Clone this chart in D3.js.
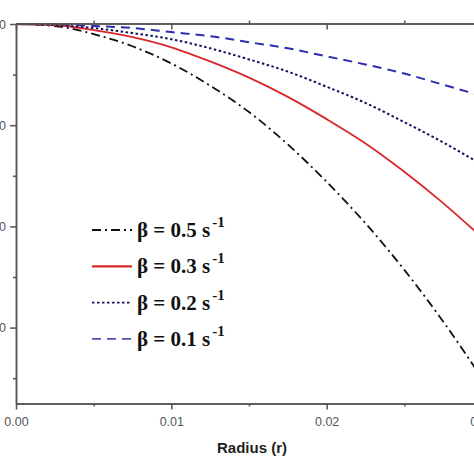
<!DOCTYPE html>
<html>
<head>
<meta charset="utf-8">
<script src="https://cdn.jsdelivr.net/npm/d3@7"></script>
<style>
    body { margin: 0; background: #fff; }
    svg { display: block; overflow: hidden; }
</style>
</head>
<body>
<div id="chart"></div>
<script>
// data
let radius = [0, 0.0025, 0.005, 0.0075, 0.01, 0.0125, 0.015, 0.0175, 0.02, 0.0225, 0.025, 0.0275, 0.03];
let beta05 = [1.000, 0.998, 0.990, 0.978, 0.961, 0.939, 0.913, 0.881, 0.844, 0.803, 0.757, 0.706, 0.650];
let beta03 = [1.000, 0.999, 0.994, 0.987, 0.977, 0.963, 0.947, 0.928, 0.906, 0.882, 0.854, 0.823, 0.789];
let beta02 = [1.000, 0.999, 0.996, 0.991, 0.985, 0.976, 0.965, 0.953, 0.938, 0.922, 0.903, 0.883, 0.861];
let beta01 = [1.000, 1.000, 0.998, 0.996, 0.992, 0.988, 0.982, 0.976, 0.968, 0.960, 0.951, 0.940, 0.929];
let legendLabels = ["β = 0.5 s", "β = 0.3 s", "β = 0.2 s", "β = 0.1 s"];
let xTicks = [0, 0.01, 0.02, 0.03];
let xMinorTicks = [0.005, 0.015, 0.025];
let yTicks = [1.0, 0.9, 0.8, 0.7];
let yMinorTicks = [0.95, 0.85, 0.75, 0.65];

let wSvg = 474, hSvg = 474;
let padLeft = 16, padTop = 23.5, padBottom = 403.5, padRight = 482;

let svg = d3.select("#chart").append("svg")
    .attr("width", wSvg).attr("height", hSvg);

svg.append("rect").attr("width", wSvg).attr("height", hSvg).attr("fill", "#fff");

const xScale = d3.scaleLinear().domain([0, 0.03]).range([padLeft, padRight]);
const yScale = d3.scaleLinear().domain([0.625, 1.0]).range([padBottom, padTop + 0.5]);

// series styles
let series = [
    { values: beta05, color: "#111", dash: "9,4,2,4", width: 1.8 },
    { values: beta03, color: "#d8282a", dash: null, width: 1.8 },
    { values: beta02, color: "#15155e", dash: "2.5,2.5", width: 2 },
    { values: beta01, color: "#2d2db0", dash: "9,6", width: 2 }
];

let line = d3.line()
    .x((d, i) => xScale(radius[i]))
    .y(d => yScale(d))
    .curve(d3.curveMonotoneX);

for (let s of series) {
    svg.append("path")
        .attr("d", line(s.values))
        .attr("fill", "none")
        .attr("stroke", s.color)
        .attr("stroke-width", s.width)
        .attr("stroke-dasharray", s.dash);
}

// axes
function styleAxis(g) {
    g.selectAll("path, line").attr("stroke", "#555").attr("stroke-width", 1.5);
    g.selectAll("text").attr("fill", "#555")
        .style("font-family", "Liberation Sans, Arial, sans-serif")
        .style("font-size", "12.5px");
}

svg.append("g")
    .attr("transform", `translate(0, ${padBottom})`)
    .call(d3.axisBottom(xScale).tickValues(xTicks).tickSize(6).tickSizeOuter(0)
        .tickPadding(8).tickFormat(d3.format(".2f")))
    .call(styleAxis);

svg.append("g")
    .attr("transform", `translate(0, ${padBottom})`)
    .call(d3.axisBottom(xScale).tickValues(xMinorTicks).tickSize(3).tickSizeOuter(0).tickFormat(""))
    .call(styleAxis);

svg.append("g")
    .attr("transform", `translate(0, ${padTop})`)
    .call(d3.axisTop(xScale).tickValues(xTicks).tickSize(-6).tickSizeOuter(0).tickFormat(""))
    .call(styleAxis);

svg.append("g")
    .attr("transform", `translate(0, ${padTop})`)
    .call(d3.axisTop(xScale).tickValues(xMinorTicks).tickSize(3).tickSizeOuter(0).tickFormat(""))
    .call(styleAxis);

svg.append("g")
    .attr("transform", `translate(${padLeft}, 0)`)
    .call(d3.axisLeft(yScale).tickValues(yTicks).tickSize(6).tickSizeOuter(0)
        .tickPadding(4).tickFormat(d3.format(".2f")))
    .call(styleAxis);

svg.append("g")
    .attr("transform", `translate(${padLeft}, 0)`)
    .call(d3.axisLeft(yScale).tickValues(yMinorTicks).tickSize(3).tickSizeOuter(0).tickFormat(""))
    .call(styleAxis);

svg.append("text")
    .attr("x", 252).attr("y", 453)
    .attr("text-anchor", "middle")
    .style("font-family", "Liberation Sans, Arial, sans-serif")
    .style("font-size", "15px").style("font-weight", "bold")
    .attr("fill", "#222")
    .text("Radius (r)");

// legend
let legendColors = ["#111", "#d8282a", "#15155e", "#5050b0"];
for (let i = 0; i < legendLabels.length; i++) {
    let y = 230 + i * 36.3;
    let s = series[i];
    svg.append("line")
        .attr("x1", 92).attr("x2", 132)
        .attr("y1", y).attr("y2", y)
        .attr("stroke", legendColors[i])
        .attr("stroke-width", s.dash ? 1.8 : 2.2)
        .attr("stroke-dasharray", s.dash);

    let t = svg.append("text")
        .attr("x", 137).attr("y", y + 7)
        .attr("fill", "#111")
        .style("font-family", "Liberation Serif, Times New Roman, serif")
        .style("font-size", "21px").style("font-weight", "bold");
    t.append("tspan").text(legendLabels[i]);
    t.append("tspan").attr("dy", -10).attr("dx", 2).style("font-size", "15px").text("-1");
}
</script>
</body>
</html>
